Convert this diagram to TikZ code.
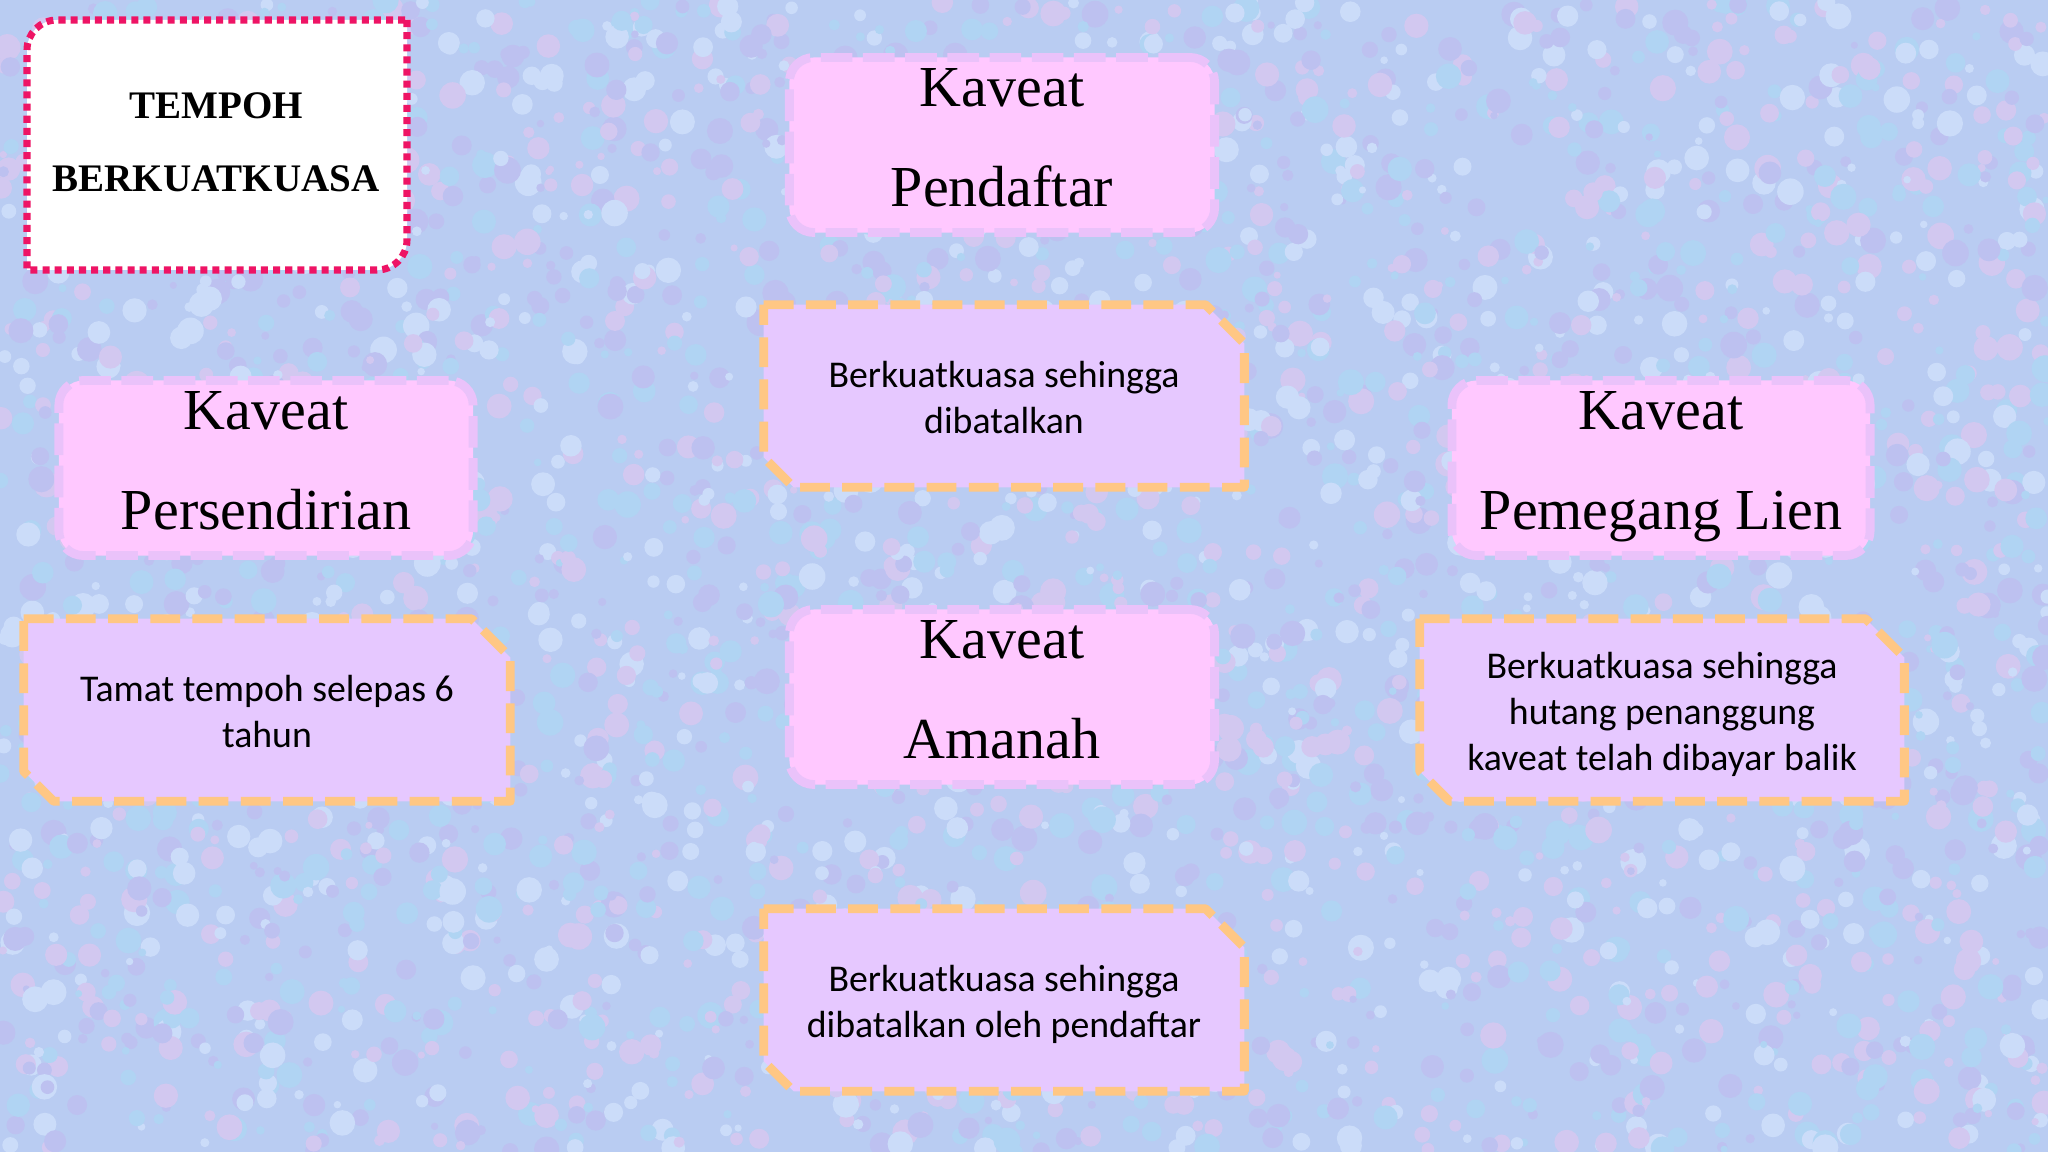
\documentclass[tikz,border=0pt]{standalone}
\usepackage{fontspec}
\setmainfont{Liberation Serif}
\newfontfamily\calib{Carlito}
\definecolor{bgbase}{HTML}{B9CCF2}
\definecolor{bgA}{HTML}{EBC4EE}
\definecolor{bgB}{HTML}{A8DCF4}
\definecolor{bgC}{HTML}{C2B6EE}
\definecolor{bgD}{HTML}{DDEBFF}
\colorlet{bg0}{bgA!50!bgbase}
\colorlet{bg1}{bgB!50!bgbase}
\colorlet{bg2}{bgC!50!bgbase}
\colorlet{bg3}{bgD!50!bgbase}
\definecolor{pinkfill}{HTML}{FFC8FF}
\definecolor{pinkedge}{HTML}{EAC2FA}
\definecolor{purplefill}{HTML}{E6C8FF}
\definecolor{orangeedge}{HTML}{FFC784}
\definecolor{titleedge}{HTML}{EE1465}
\tikzset{
  pinkbox/.style={draw=pinkedge, fill=pinkfill, line width=2.5pt,
    dash pattern=on 9pt off 3pt, rounded corners=7pt, inner sep=0pt,
    minimum height=1.75cm},
  pinktext/.style={align=center, font=\fontsize{16.5}{28.5}\selectfont,
    inner sep=0pt, text depth=0pt},
  noteframe/.style={rectangle, inner sep=0pt, minimum height=1.81cm},
  noteedge/.style={draw=orangeedge, fill=purplefill, line width=2.5pt,
    dash pattern=on 8.5pt off 3.5pt, line join=round},
  notetext/.style={align=center, font=\calib\fontsize{10.75}{13.1}\selectfont,
    inner sep=0pt, text depth=0pt},
  titletext/.style={align=center, font=\bfseries\fontsize{11.1}{20.8}\selectfont,
    inner sep=0pt},
  titleborder/.style={draw=titleedge, line width=2pt, dash pattern=on 2pt off 1.45pt}
}
\newcommand{\chamfer}[1]{%
  \path[noteedge] (#1.north west) -- ([xshift=-11pt]#1.north east)
    -- ([yshift=-11pt]#1.north east) -- (#1.south east)
    -- ([xshift=8.5pt]#1.south west) -- ([yshift=8.5pt]#1.south west) -- cycle;}
\begin{document}
\begin{tikzpicture}[x=0.01cm,y=-0.01cm]
\useasboundingbox (0,0) rectangle (2048,1152);
\fill[bgbase] (0,0) rectangle (2048,1152);
% mottled background
\pgfmathsetseed{4242}
\foreach \i in {1,...,3800}{
  \pgfmathsetmacro{\px}{rnd*2048}
  \pgfmathsetmacro{\py}{rnd*1152}
  \pgfmathsetmacro{\pr}{1.0+rnd*2.8}
  \pgfmathtruncatemacro{\pc}{int(rnd*4)}
  \fill[bg\pc] (\px,\py) circle[radius=\pr pt];
}
% title box
\fill[white] (407,20) -- (407,240) .. controls (407,256.6) and (393.6,270) .. (377,270)
  -- (27,270) -- (27,50) .. controls (27,33.4) and (40.4,20) .. (57,20) -- cycle;
\draw[titleborder] (407,20) -- (407,240) .. controls (407,256.6) and (393.6,270) .. (377,270)
  -- (27,270) -- (27,50) .. controls (27,33.4) and (40.4,20) .. (57,20) -- cycle;
\node[titletext] (title) at (216,142) {TEMPOH\\BERKUATKUASA};

% pink heading boxes
\node[pinkbox, minimum width=4.25cm] (pendaftar) at (1002,145) {};
\node[pinkbox, minimum width=4.14cm] (persendirian) at (266,468) {};
\node[pinkbox, minimum width=4.18cm] (lien) at (1661,468) {};
\node[pinkbox, minimum width=4.25cm] (amanah) at (1002,697) {};
\node[pinktext] (pendaftarT) at ([yshift=2.2pt]pendaftar.center) {Kaveat\\Pendaftar};
\node[pinktext] (persendirianT) at ([yshift=2.2pt]persendirian.center) {Kaveat\\Persendirian};
\node[pinktext] (lienT) at ([yshift=2.2pt]lien.center) {Kaveat\\Pemegang Lien};
\node[pinktext] (amanahT) at ([yshift=2.2pt]amanah.center) {Kaveat\\Amanah};

% purple note boxes
\node[noteframe, minimum width=4.79cm] (npendaftar) at (1004,396) {};
\node[noteframe, minimum width=4.85cm] (npersendirian) at (267,710) {};
\node[noteframe, minimum width=4.83cm] (nlien) at (1662,710) {};
\node[noteframe, minimum width=4.79cm] (namanah) at (1004,1000) {};
\chamfer{npendaftar}
\chamfer{npersendirian}
\chamfer{nlien}
\chamfer{namanah}
\node[notetext] (npendaftarT) at ([yshift=-0.3pt]npendaftar.center) {Berkuatkuasa sehingga\\dibatalkan};
\node[notetext] (npersendirianT) at ([yshift=-0.3pt]npersendirian.center) {Tamat tempoh selepas 6\\tahun};
\node[notetext] (nlienT) at ([yshift=-0.3pt]nlien.center) {Berkuatkuasa sehingga\\hutang penanggung\\kaveat telah dibayar balik};
\node[notetext] (namanahT) at ([yshift=-0.3pt]namanah.center) {Berkuatkuasa sehingga\\dibatalkan oleh pendaftar};
\end{tikzpicture}
\end{document}
